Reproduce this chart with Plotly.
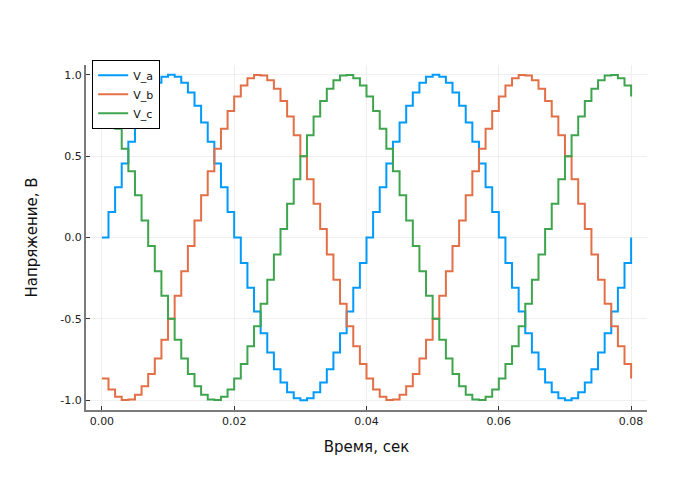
"""Three-phase voltage, sampled and held (step plot)."""

import plotly.graph_objects as go

# Sample times, s
TIME = [
    0.000, 0.001, 0.002, 0.003, 0.004, 0.005, 0.006, 0.007, 0.008, 0.009,
    0.010, 0.011, 0.012, 0.013, 0.014, 0.015, 0.016, 0.017, 0.018, 0.019,
    0.020, 0.021, 0.022, 0.023, 0.024, 0.025, 0.026, 0.027, 0.028, 0.029,
    0.030, 0.031, 0.032, 0.033, 0.034, 0.035, 0.036, 0.037, 0.038, 0.039,
    0.040, 0.041, 0.042, 0.043, 0.044, 0.045, 0.046, 0.047, 0.048, 0.049,
    0.050, 0.051, 0.052, 0.053, 0.054, 0.055, 0.056, 0.057, 0.058, 0.059,
    0.060, 0.061, 0.062, 0.063, 0.064, 0.065, 0.066, 0.067, 0.068, 0.069,
    0.070, 0.071, 0.072, 0.073, 0.074, 0.075, 0.076, 0.077, 0.078, 0.079,
    0.080,
]

V_A = [
    0.000, 0.156, 0.309, 0.454, 0.588, 0.707, 0.809, 0.891, 0.951, 0.988,
    1.000, 0.988, 0.951, 0.891, 0.809, 0.707, 0.588, 0.454, 0.309, 0.156,
    0.000, -0.156, -0.309, -0.454, -0.588, -0.707, -0.809, -0.891, -0.951, -0.988,
    -1.000, -0.988, -0.951, -0.891, -0.809, -0.707, -0.588, -0.454, -0.309, -0.156,
    0.000, 0.156, 0.309, 0.454, 0.588, 0.707, 0.809, 0.891, 0.951, 0.988,
    1.000, 0.988, 0.951, 0.891, 0.809, 0.707, 0.588, 0.454, 0.309, 0.156,
    0.000, -0.156, -0.309, -0.454, -0.588, -0.707, -0.809, -0.891, -0.951, -0.988,
    -1.000, -0.988, -0.951, -0.891, -0.809, -0.707, -0.588, -0.454, -0.309, -0.156,
    0.000,
]

V_B = [
    -0.866, -0.934, -0.978, -0.999, -0.995, -0.966, -0.914, -0.839, -0.743, -0.629,
    -0.500, -0.358, -0.208, -0.052, 0.105, 0.259, 0.407, 0.545, 0.669, 0.777,
    0.866, 0.934, 0.978, 0.999, 0.995, 0.966, 0.914, 0.839, 0.743, 0.629,
    0.500, 0.358, 0.208, 0.052, -0.105, -0.259, -0.407, -0.545, -0.669, -0.777,
    -0.866, -0.934, -0.978, -0.999, -0.995, -0.966, -0.914, -0.839, -0.743, -0.629,
    -0.500, -0.358, -0.208, -0.052, 0.105, 0.259, 0.407, 0.545, 0.669, 0.777,
    0.866, 0.934, 0.978, 0.999, 0.995, 0.966, 0.914, 0.839, 0.743, 0.629,
    0.500, 0.358, 0.208, 0.052, -0.105, -0.259, -0.407, -0.545, -0.669, -0.777,
    -0.866,
]

V_C = [
    0.866, 0.777, 0.669, 0.545, 0.407, 0.259, 0.105, -0.052, -0.208, -0.358,
    -0.500, -0.629, -0.743, -0.839, -0.914, -0.966, -0.995, -0.999, -0.978, -0.934,
    -0.866, -0.777, -0.669, -0.545, -0.407, -0.259, -0.105, 0.052, 0.208, 0.358,
    0.500, 0.629, 0.743, 0.839, 0.914, 0.966, 0.995, 0.999, 0.978, 0.934,
    0.866, 0.777, 0.669, 0.545, 0.407, 0.259, 0.105, -0.052, -0.208, -0.358,
    -0.500, -0.629, -0.743, -0.839, -0.914, -0.966, -0.995, -0.999, -0.978, -0.934,
    -0.866, -0.777, -0.669, -0.545, -0.407, -0.259, -0.105, 0.052, 0.208, 0.358,
    0.500, 0.629, 0.743, 0.839, 0.914, 0.966, 0.995, 0.999, 0.978, 0.934,
    0.866,
]

SERIES = [("V_a", V_A, "#009AFA"), ("V_b", V_B, "#E36F47"), ("V_c", V_C, "#3EA44E")]

X_TICKS = [0.00, 0.02, 0.04, 0.06, 0.08]
X_TICK_TEXT = ["0.00", "0.02", "0.04", "0.06", "0.08"]
Y_TICKS = [-1.0, -0.5, 0.0, 0.5, 1.0]
Y_TICK_TEXT = ["-1.0", "-0.5", "0.0", "0.5", "1.0"]

FONT = "DejaVu Sans"

fig = go.Figure()
for name, values, color in SERIES:
    fig.add_scatter(
        x=TIME,
        y=values,
        name=name,
        mode="lines",
        line={"color": color, "width": 2, "shape": "hv"},
    )

axis_common = dict(
    showline=True,
    linecolor="#7a7a7a",
    linewidth=2,
    showgrid=True,
    gridcolor="#efefef",
    gridwidth=1,
    zeroline=False,
    automargin=False,
    ticks="inside",
    ticklen=4,
    tickcolor="#333333",
    tickfont={"family": FONT, "size": 11, "color": "#222222"},
    title_font={"family": FONT, "size": 15, "color": "#111111"},
)

# the page body adds an 8px offset, so margins are trimmed on the left/top
fig.update_layout(
    width=700,
    height=500,
    paper_bgcolor="white",
    plot_bgcolor="white",
    margin={"l": 78, "r": 61, "t": 57, "b": 98},
    font={"family": FONT},
    xaxis=dict(
        axis_common,
        range=[-0.0024, 0.0824],
        tickvals=X_TICKS,
        ticktext=X_TICK_TEXT,
        title={"text": "Время, сек", "standoff": 14},
    ),
    yaxis=dict(
        axis_common,
        range=[-1.06, 1.06],
        tickvals=Y_TICKS,
        ticktext=Y_TICK_TEXT,
        title={"text": "Напряжение, В", "standoff": 19},
    ),
    legend={
        "x": 0.011,
        "y": 1.015,
        "xanchor": "left",
        "yanchor": "top",
        "bgcolor": "white",
        "bordercolor": "black",
        "borderwidth": 1,
        "font": {"family": FONT, "size": 11, "color": "#111111"},
        "itemwidth": 30,
        "tracegroupgap": 0,
    },
)

fig.write_html("out.html")
